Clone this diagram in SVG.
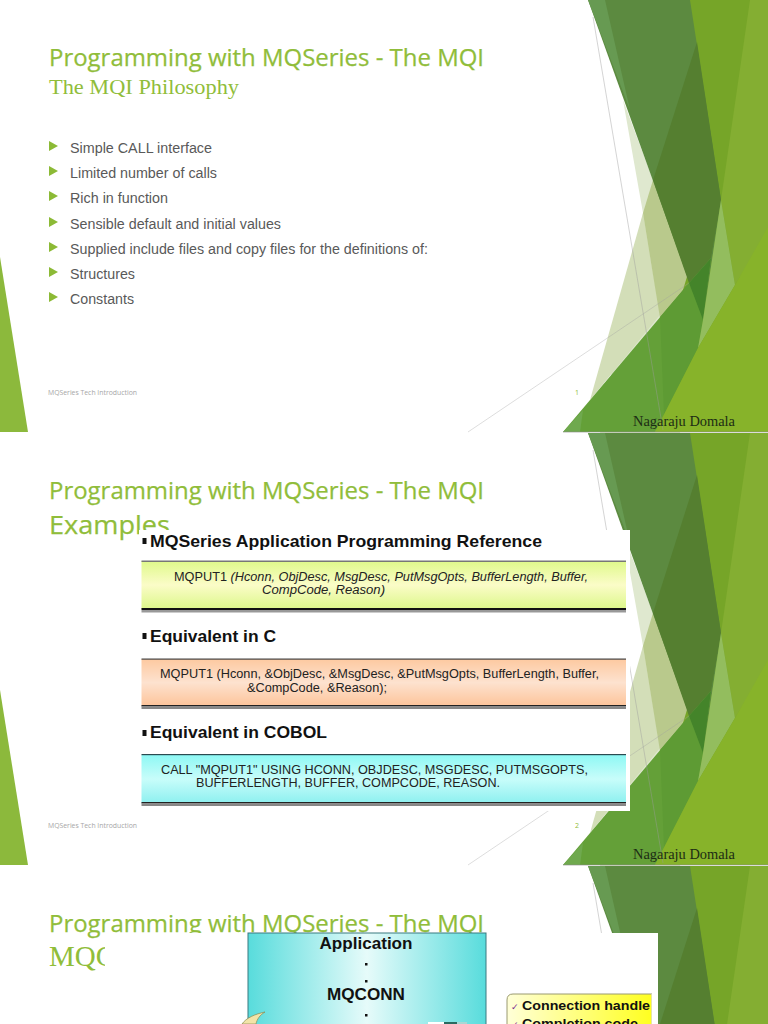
<svg xmlns="http://www.w3.org/2000/svg" width="768" height="1024" viewBox="0 0 768 1024">
<style>
.title{font-family:"Open Sans","Liberation Sans",sans-serif;font-size:24px;fill:#90bd3a;stroke:#90bd3a;stroke-width:.25}
.sub{font-family:"Liberation Serif",serif;fill:#90bd3a}
.bl{font-family:"Liberation Sans",sans-serif;font-size:14px;fill:#595959}
.foot{font-family:"Open Sans","Liberation Sans",sans-serif;font-size:7px;fill:#a6a6a6}
.num{font-family:"Open Sans","Liberation Sans",sans-serif;font-size:7px;fill:#90bd3a}
.auth{font-family:"Liberation Serif",serif;font-size:14px;fill:#1c2c14}
.hd{font-family:"Liberation Sans",sans-serif;font-size:17px;font-weight:bold;fill:#111}
.tx{font-family:"Liberation Sans",sans-serif;font-size:12.5px;fill:#222}
.it{font-style:italic}
.ap{font-family:"Liberation Sans",sans-serif;font-size:17px;font-weight:bold;fill:#111;text-anchor:middle}
.yl{font-family:"Liberation Sans",sans-serif;font-size:13.5px;font-weight:bold;fill:#111}
.ck{font-family:"DejaVu Sans",sans-serif;font-size:9px;fill:#7a2a90}
.bu{fill:#8cba36}
</style>
<defs>
<clipPath id="c1"><rect x="0" y="0" width="768" height="433"/></clipPath>
<clipPath id="mqc"><rect x="40" y="930" width="65" height="50"/></clipPath>
<linearGradient id="gGreen" x1="0" y1="0" x2="0" y2="1"><stop offset="0" stop-color="#dff98a"/><stop offset=".5" stop-color="#fbfcc8"/><stop offset="1" stop-color="#dcf78a"/></linearGradient>
<linearGradient id="gPeach" x1="0" y1="0" x2="0" y2="1"><stop offset="0" stop-color="#fdc9a0"/><stop offset=".5" stop-color="#fde2cf"/><stop offset="1" stop-color="#fdc49a"/></linearGradient>
<linearGradient id="gCyan" x1="0" y1="0" x2="0" y2="1"><stop offset="0" stop-color="#8ef8f4"/><stop offset=".5" stop-color="#c8fdfa"/><stop offset="1" stop-color="#8ef0f0"/></linearGradient>
<linearGradient id="gApp" x1="0" y1="0" x2="1" y2="0"><stop offset="0" stop-color="#58dcdc"/><stop offset=".5" stop-color="#e6fbfa"/><stop offset="1" stop-color="#58dcdc"/></linearGradient>
<linearGradient id="gYel" x1="0" y1="0" x2="1" y2="0"><stop offset="0" stop-color="#ffffd8"/><stop offset="1" stop-color="#ffff20"/></linearGradient>
<g id="deco" clip-path="url(#c1)">
<polygon points="0,257 28,432 0,432" fill="#8cb93c"/>
<polygon points="623,100 653,180 700,300 680,433 600,433 643,213" fill="#dfe8cf"/>
<polygon points="643,213 660,315 590,400" fill="#d3deb8"/>
<polygon points="643,213 653,180 695,290 660,318" fill="#b9c98c"/>
<polygon points="680,0 768,0 768,432 655,432 680,300 710,200" fill="#76a528"/>
<polygon points="588,0 690,0 721,200 703,320" fill="#5c8a40"/>
<polygon points="588,0 605,0 630,110" fill="#679a52"/>
<polygon points="653,180 697,42 721,200 711,258 689,283" fill="#557f30"/>
<polygon points="563,432 689,283 711,258 703,320 698,348 655,432" fill="#64a038"/>
<polygon points="660,317 689,283 703,320 698,348 664,415" fill="#5e9b34"/>
<polygon points="689,283 711,258 703,320" fill="#44842a"/>
<polygon points="563,432 583,410 580,432" fill="#6fa94e"/>
<polygon points="750,0 768,0 768,232 735,285 721,200" fill="#84ae32"/>
<polygon points="721,200 735,285 698,348 703,320" fill="#93bd5e"/>
<polygon points="768,227 768,432 655,432 698,348 735,285" fill="#87b32a"/>
<line x1="593" y1="17" x2="663" y2="430" stroke="#9c9c9c" stroke-opacity=".55" stroke-width=".8"/>
<line x1="468" y1="432" x2="689" y2="283" stroke="#a0a0a0" stroke-opacity=".45" stroke-width=".8"/>
<line x1="563" y1="432" x2="768" y2="432" stroke="#8a8a8a" stroke-opacity=".6" stroke-width="1"/>
<text class="auth" x="633" y="426" textLength="102" lengthAdjust="spacingAndGlyphs">Nagaraju Domala</text>
<text class="foot" x="48" y="395" textLength="89" lengthAdjust="spacingAndGlyphs">MQSeries Tech Introduction</text>
</g>
<polygon id="tri" points="49,0 58,5 49,10" class="bu"/>
</defs>

<rect width="768" height="1024" fill="#fff"/>

<g id="slide1">
<use href="#deco"/>
<text class="title" x="49" y="66" textLength="435" lengthAdjust="spacingAndGlyphs">Programming with MQSeries - The MQI</text>
<text class="sub" x="49" y="94" font-size="22" textLength="190" lengthAdjust="spacingAndGlyphs">The MQI Philosophy</text>
<use href="#tri" y="141"/><text class="bl" x="70" y="153" textLength="142" lengthAdjust="spacingAndGlyphs">Simple CALL interface</text>
<use href="#tri" y="166"/><text class="bl" x="70" y="178" textLength="147" lengthAdjust="spacingAndGlyphs">Limited number of calls</text>
<use href="#tri" y="191"/><text class="bl" x="70" y="203" textLength="98" lengthAdjust="spacingAndGlyphs">Rich in function</text>
<use href="#tri" y="217"/><text class="bl" x="70" y="229" textLength="211" lengthAdjust="spacingAndGlyphs">Sensible default and initial values</text>
<use href="#tri" y="242"/><text class="bl" x="70" y="254" textLength="358" lengthAdjust="spacingAndGlyphs">Supplied include files and copy files for the definitions of:</text>
<use href="#tri" y="267"/><text class="bl" x="70" y="279" textLength="65" lengthAdjust="spacingAndGlyphs">Structures</text>
<use href="#tri" y="292"/><text class="bl" x="70" y="304" textLength="64" lengthAdjust="spacingAndGlyphs">Constants</text>
<text class="num" x="575" y="395">1</text>
</g>

<g id="slide2">
<use href="#deco" y="433"/>
<text class="title" x="49" y="499" textLength="435" lengthAdjust="spacingAndGlyphs">Programming with MQSeries - The MQI</text>
<text class="title" x="49" y="534" style="font-size:25px" textLength="121" lengthAdjust="spacingAndGlyphs">Examples</text>
<text class="num" x="575" y="828">2</text>
<g id="api-picture">
<rect x="139" y="530" width="491" height="281" fill="#fff"/>
<g id="ref">
<rect x="142.5" y="538" width="4" height="6" fill="#111"/>
<text class="hd" x="150" y="547" textLength="392" lengthAdjust="spacingAndGlyphs">MQSeries Application Programming Reference</text>
<rect x="141.5" y="561" width="484.5" height="48" fill="url(#gGreen)"/>
<rect x="141.5" y="560.5" width="484.5" height="1.5" fill="#777"/>
<rect x="141.5" y="608" width="484.5" height="2" fill="#111"/>
<rect x="141.5" y="610" width="484.5" height="2.5" fill="#999"/>
<text class="tx" x="174" y="581" textLength="414" lengthAdjust="spacingAndGlyphs">MQPUT1 <tspan class="it">(Hconn, ObjDesc, MsgDesc, PutMsgOpts, BufferLength, Buffer,</tspan></text>
<text class="tx it" x="262" y="594" textLength="123" lengthAdjust="spacingAndGlyphs">CompCode,  Reason)</text>
</g>
<g id="c-lang">
<rect x="142.5" y="633" width="4" height="6" fill="#111"/>
<text class="hd" x="150" y="642" textLength="126" lengthAdjust="spacingAndGlyphs">Equivalent in C</text>
<rect x="141.5" y="659" width="484.5" height="47" fill="url(#gPeach)"/>
<rect x="141.5" y="658.5" width="484.5" height="1.2" fill="#444"/>
<rect x="141.5" y="705" width="484.5" height="1.5" fill="#222"/>
<rect x="141.5" y="706.5" width="484.5" height="2.5" fill="#888"/>
<text class="tx" x="160" y="678" textLength="439" lengthAdjust="spacingAndGlyphs">MQPUT1 (Hconn, &amp;ObjDesc, &amp;MsgDesc, &amp;PutMsgOpts, BufferLength, Buffer,</text>
<text class="tx" x="247" y="692" textLength="140" lengthAdjust="spacingAndGlyphs">&amp;CompCode, &amp;Reason);</text>
</g>
<g id="cobol">
<rect x="142.5" y="730" width="4" height="6" fill="#111"/>
<text class="hd" x="150" y="738" textLength="177" lengthAdjust="spacingAndGlyphs">Equivalent in COBOL</text>
<rect x="141.5" y="755" width="484.5" height="48" fill="url(#gCyan)"/>
<rect x="141.5" y="754" width="484.5" height="1.2" fill="#2a4a50"/>
<rect x="141.5" y="802" width="484.5" height="1.5" fill="#222"/>
<rect x="141.5" y="803.5" width="484.5" height="2.5" fill="#888"/>
<text class="tx" x="161" y="774" textLength="427" lengthAdjust="spacingAndGlyphs">CALL "MQPUT1" USING HCONN, OBJDESC, MSGDESC, PUTMSGOPTS,</text>
<text class="tx" x="196" y="787" textLength="304" lengthAdjust="spacingAndGlyphs">BUFFERLENGTH, BUFFER, COMPCODE, REASON.</text>
</g>
</g>
</g>

<g id="slide3">
<use href="#deco" y="866"/>
<text class="title" x="49" y="932" textLength="435" lengthAdjust="spacingAndGlyphs">Programming with MQSeries - The MQI</text>
<g clip-path="url(#mqc)"><text class="sub" x="49" y="966" font-size="29">MQC</text></g>
<rect x="105" y="933" width="553" height="91" fill="#fff"/>
<g id="application">
<rect x="248" y="933" width="238" height="95" fill="url(#gApp)" stroke="#3a7a80" stroke-width="1"/>
<text class="ap" x="366" y="949" textLength="93" lengthAdjust="spacingAndGlyphs">Application</text>
<rect x="365" y="963" width="2.5" height="2.5" fill="#111"/>
<rect x="365" y="980" width="2.5" height="2.5" fill="#111"/>
<text class="ap" x="366" y="1000" textLength="78" lengthAdjust="spacingAndGlyphs">MQCONN</text>
<rect x="365" y="1014" width="2.5" height="2.5" fill="#111"/>
<path d="M265,1012 C255,1014 246,1018 242,1024 L256,1024 C257,1019 260,1015 265,1012 Z" fill="#f2e4a8" stroke="#8a8a50" stroke-width=".7"/>
<rect x="428" y="1022" width="16" height="3" fill="#fff"/>
<rect x="444" y="1022" width="13" height="3" fill="#2a6a60"/>
<rect x="457" y="1022" width="10" height="3" fill="#a8d8d4"/>
</g>
<g id="result-box">
<path d="M652,994 H513 Q507,994 507,1000 V1030 H652 Z" fill="url(#gYel)" stroke="#9a9a70" stroke-width="1"/>
<rect x="651.5" y="994" width="2" height="32" fill="#fff"/>
<text class="ck" x="511" y="1010">✓</text>
<text class="yl" x="522" y="1010" textLength="128" lengthAdjust="spacingAndGlyphs">Connection handle</text>
<text class="ck" x="511" y="1028">✓</text>
<text class="yl" x="522" y="1028" textLength="116" lengthAdjust="spacingAndGlyphs">Completion code</text>
</g>
</g>
</svg>
